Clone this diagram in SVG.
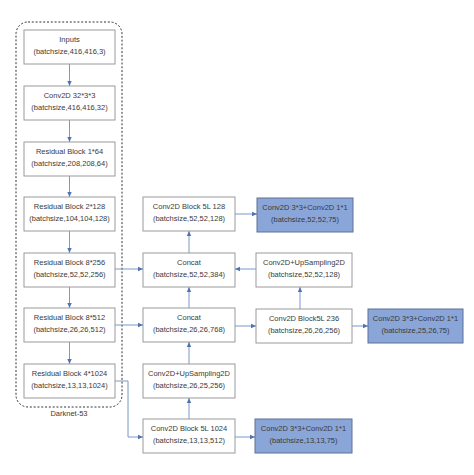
<svg xmlns="http://www.w3.org/2000/svg" width="474" height="475" viewBox="0 0 474 475">
<style>
.b{fill:#ffffff;stroke:#9a9a9a;stroke-width:1}
.bl{fill:#8aa6d8;stroke:#5f7196;stroke-width:1}
.t{font-family:"Liberation Sans",Arial,sans-serif;font-size:7.5px;fill:#3a3a3a;text-anchor:middle}
.c{fill:none;stroke:#6b8cc4;stroke-width:0.9}
</style>
<defs>
<marker id="a" markerWidth="6" markerHeight="6" refX="5" refY="3" orient="auto" markerUnits="userSpaceOnUse">
<path d="M0,0.8 L5,3 L0,5.2 Z" fill="#4f73b3"/>
</marker>
</defs>
<rect width="474" height="475" fill="#ffffff"/>
<g id="darknet">
<rect x="16" y="22" width="106" height="385" rx="12" fill="none" stroke="#333" stroke-width="1" stroke-dasharray="2,1.8"/>
<text class="t" x="69" y="416">Darknet-53</text>
</g>
<g id="connectors">
<path class="c" d="M69.5,64 V86" marker-end="url(#a)"/>
<path class="c" d="M69.5,120 V142" marker-end="url(#a)"/>
<path class="c" d="M69.5,176 V197" marker-end="url(#a)"/>
<path class="c" d="M69.5,231 V253" marker-end="url(#a)"/>
<path class="c" d="M69.5,287 V308" marker-end="url(#a)"/>
<path class="c" d="M69.5,342 V364" marker-end="url(#a)"/>
<path class="c" d="M115,269 H143" marker-end="url(#a)"/>
<path class="c" d="M115,325 H143" marker-end="url(#a)"/>
<path class="c" d="M115,381 H128 V437 H143" marker-end="url(#a)"/>
<path class="c" d="M189,419 V398" marker-end="url(#a)"/>
<path class="c" d="M189,364 V342" marker-end="url(#a)"/>
<path class="c" d="M189,308 V287" marker-end="url(#a)"/>
<path class="c" d="M189,253 V231" marker-end="url(#a)"/>
<path class="c" d="M235,214 H257" marker-end="url(#a)"/>
<path class="c" d="M256,269 H235" marker-end="url(#a)"/>
<path class="c" d="M235,326 H256" marker-end="url(#a)"/>
<path class="c" d="M300,309 V287" marker-end="url(#a)"/>
<path class="c" d="M352,326 H368" marker-end="url(#a)"/>
<path class="c" d="M235,437 H255" marker-end="url(#a)"/>
</g>
<g id="inputs"><rect class="b" x="24" y="30" width="91" height="34"/><text class="t" x="69.5" y="42">Inputs</text><text class="t" x="69.5" y="54">(batchsize,416,416,3)</text></g>
<g id="conv1"><rect class="b" x="24" y="86" width="91" height="34"/><text class="t" x="69.5" y="98">Conv2D 32*3*3</text><text class="t" x="69.5" y="110">(batchsize,416,416,32)</text></g>
<g id="res1"><rect class="b" x="24" y="142" width="91" height="34"/><text class="t" x="69.5" y="154">Residual Block 1*64</text><text class="t" x="69.5" y="166">(batchsize,208,208,64)</text></g>
<g id="res2"><rect class="b" x="24" y="197" width="91" height="34"/><text class="t" x="69.5" y="209">Residual Block 2*128</text><text class="t" x="69.5" y="221">(batchsize,104,104,128)</text></g>
<g id="res8a"><rect class="b" x="24" y="253" width="91" height="34"/><text class="t" x="69.5" y="265">Residual Block 8*256</text><text class="t" x="69.5" y="277">(batchsize,52,52,256)</text></g>
<g id="res8b"><rect class="b" x="24" y="308" width="91" height="34"/><text class="t" x="69.5" y="320">Residual Block 8*512</text><text class="t" x="69.5" y="332">(batchsize,26,26,512)</text></g>
<g id="res4"><rect class="b" x="24" y="364" width="91" height="34"/><text class="t" x="69.5" y="376">Residual Block 4*1024</text><text class="t" x="69.5" y="388">(batchsize,13,13,1024)</text></g>
<g id="blk128"><rect class="b" x="143" y="197" width="92" height="34"/><text class="t" x="189" y="209">Conv2D Block 5L 128</text><text class="t" x="189" y="221">(batchsize,52,52,128)</text></g>
<g id="concat1"><rect class="b" x="143" y="253" width="92" height="34"/><text class="t" x="189" y="265">Concat</text><text class="t" x="189" y="277">(batchsize,52,52,384)</text></g>
<g id="concat2"><rect class="b" x="143" y="308" width="92" height="34"/><text class="t" x="189" y="320">Concat</text><text class="t" x="189" y="332">(batchsize,26,26,768)</text></g>
<g id="up2"><rect class="b" x="143" y="364" width="92" height="34"/><text class="t" x="189" y="376">Conv2D+UpSampling2D</text><text class="t" x="189" y="388">(batchsize,26,25,256)</text></g>
<g id="blk1024"><rect class="b" x="143" y="419" width="92" height="34"/><text class="t" x="189" y="431">Conv2D Block 5L 1024</text><text class="t" x="189" y="443">(batchsize,13,13,512)</text></g>
<g id="out52"><rect class="bl" x="257" y="198" width="96" height="34"/><text class="t" x="305" y="210">Conv2D 3*3+Conv2D 1*1</text><text class="t" x="305" y="222">(batchsize,52,52,75)</text></g>
<g id="up1"><rect class="b" x="256" y="253" width="96" height="34"/><text class="t" x="304" y="265">Conv2D+UpSampling2D</text><text class="t" x="304" y="277">(batchsize,52,52,128)</text></g>
<g id="blk236"><rect class="b" x="256" y="309" width="96" height="34"/><text class="t" x="304" y="321">Conv2D Block5L 236</text><text class="t" x="304" y="333">(batchsize,26,26,256)</text></g>
<g id="out26"><rect class="bl" x="368" y="309" width="95" height="34"/><text class="t" x="415.5" y="321">Conv2D 3*3+Conv2D 1*1</text><text class="t" x="415.5" y="333">(batchsize,25,26,75)</text></g>
<g id="out13"><rect class="bl" x="255" y="419" width="97" height="34"/><text class="t" x="303.5" y="431">Conv2D 3*3+Conv2D 1*1</text><text class="t" x="303.5" y="443">(batchsize,13,13,75)</text></g>
</svg>
